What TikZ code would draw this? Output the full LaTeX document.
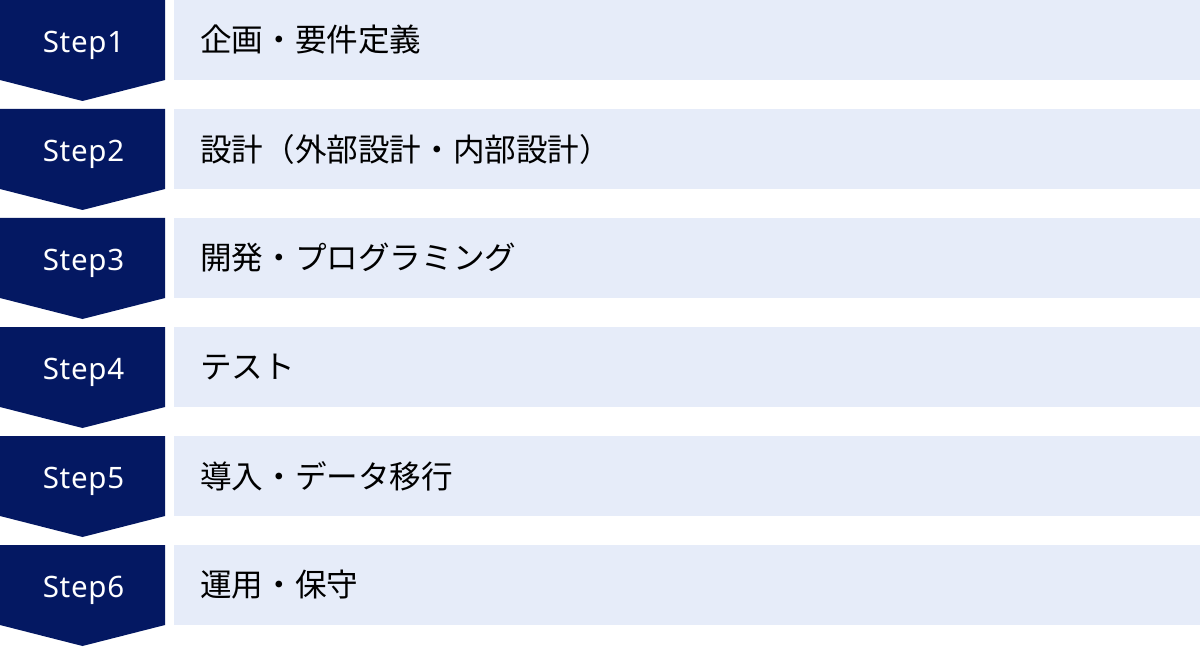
\documentclass[tikz,border=0pt]{standalone}
\usepackage{fontspec}
\setmainfont{Noto Sans}
\newfontfamily\stepfont[LetterSpace=2.5]{Noto Sans}
\newfontfamily\jpfont{Noto Sans CJK JP}
\definecolor{navy}{HTML}{041862}
\definecolor{paleblue}{HTML}{E6ECF9}
\begin{document}
\begin{tikzpicture}[x=1pt,y=-1pt,
  stepshape/.style={fill=navy,draw=none},
  barshape/.style={fill=paleblue,draw=none},
  steplabel/.style={text=white,font=\stepfont\fontsize{29.5}{32}\selectfont,inner sep=0pt,anchor=base},
  tasklabel/.style={text=black,font=\jpfont\fontsize{31.6}{35}\selectfont,inner sep=0pt,anchor=west}]
\useasboundingbox (0,0) rectangle (1200,647);
\fill[white] (0,0) rectangle (1200,647);
\foreach \i/\txt in {1/企画・要件定義,2/設計（外部設計・内部設計）,3/開発・プログラミング,4/テスト,5/導入・データ移行,6/運用・保守}{
  \pgfmathsetmacro{\t}{(\i-1)*109}
  \fill[stepshape] (0,\t) -- (165,\t) -- (165,\t+80) -- (82.5,\t+101) -- (0,\t+80) -- cycle;
  \fill[barshape] (174,\t) rectangle (1200,\t+80);
  \node[steplabel] (step\i) at (83.5,\t+52.5) {Step\i};
  \node[tasklabel] (task\i) at (200,\t+40) {\txt};
}
\end{tikzpicture}
\end{document}
